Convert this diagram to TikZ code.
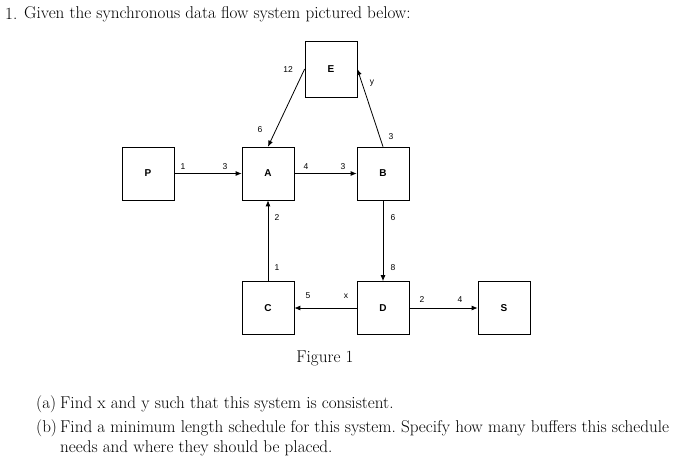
\documentclass[tikz,border=0pt]{standalone}
\usepackage{fontspec}
\setsansfont{Liberation Sans}
\usetikzlibrary{arrows.meta}
\begin{document}
\begin{tikzpicture}[x=1pt,y=-1pt,
 box/.style={draw,minimum width=52pt,minimum height=53pt,font=\sffamily\bfseries\fontsize{10}{12}\selectfont,line width=0.7pt},
 lab/.style={font=\sffamily\fontsize{8.5}{10}\selectfont},
 arr/.style={-{Latex[length=6pt,width=5pt]},line width=0.8pt},
 txt/.style={anchor=west,font=\fontsize{17.1}{20}\selectfont,inner sep=0pt}]
\useasboundingbox (0,0) rectangle (675,471);
\node[box] (P) at (148,173.5) {P};
\node[box] (A) at (268,173.5) {A};
\node[box] (B) at (383,173.5) {B};
\node[box,minimum height=56pt] (E) at (331,69) {E};
\node[box] (C) at (268,308) {C};
\node[box] (D) at (383,308) {D};
\node[box] (S) at (504,308) {S};
\draw[arr] (P) -- (A);
\draw[arr] (A) -- (B);
\draw[arr] (E.west) -- (A.north);
\draw[arr] (B.north) -- (E.east);
\draw[arr] (B) -- (D);
\draw[arr] (D) -- (C);
\draw[arr] (C) -- (A);
\draw[arr] (D) -- (S);
\node[lab] (l1) at (288,70) {12};
\node[lab] (l2) at (260,130) {6};
\node[lab] (l3) at (372,83) {y};
\node[lab] (l4) at (391,137) {3};
\node[lab] (l5) at (183,167) {1};
\node[lab] (l6) at (225,167) {3};
\node[lab] (l7) at (306,167) {4};
\node[lab] (l8) at (343,167) {3};
\node[lab] (l9) at (393,218) {6};
\node[lab] (l10) at (393,268) {8};
\node[lab] (l11) at (308,296) {5};
\node[lab] (l12) at (346,296) {x};
\node[lab] (l13) at (277,218) {2};
\node[lab] (l14) at (277,268) {1};
\node[lab] (l15) at (422,300) {2};
\node[lab] (l16) at (460,300) {4};
\node[txt] (n0) at (5,14) {1.};
\node[txt] (t0) at (24,14) {Given the synchronous data flow system pictured below:};
\node[txt,anchor=center] (fig) at (325,358) {Figure 1};
\node[txt] (na) at (36,404) {(a)};
\node[txt] (ta) at (60,404) {Find x and y such that this system is consistent.};
\node[txt] (nb) at (36,428) {(b)};
\node[txt] (tb) at (60,428) {Find a minimum length schedule for this system.\ Specify how many buffers this schedule};
\node[txt] (tc) at (60,448) {needs and where they should be placed.};
\end{tikzpicture}
\end{document}
